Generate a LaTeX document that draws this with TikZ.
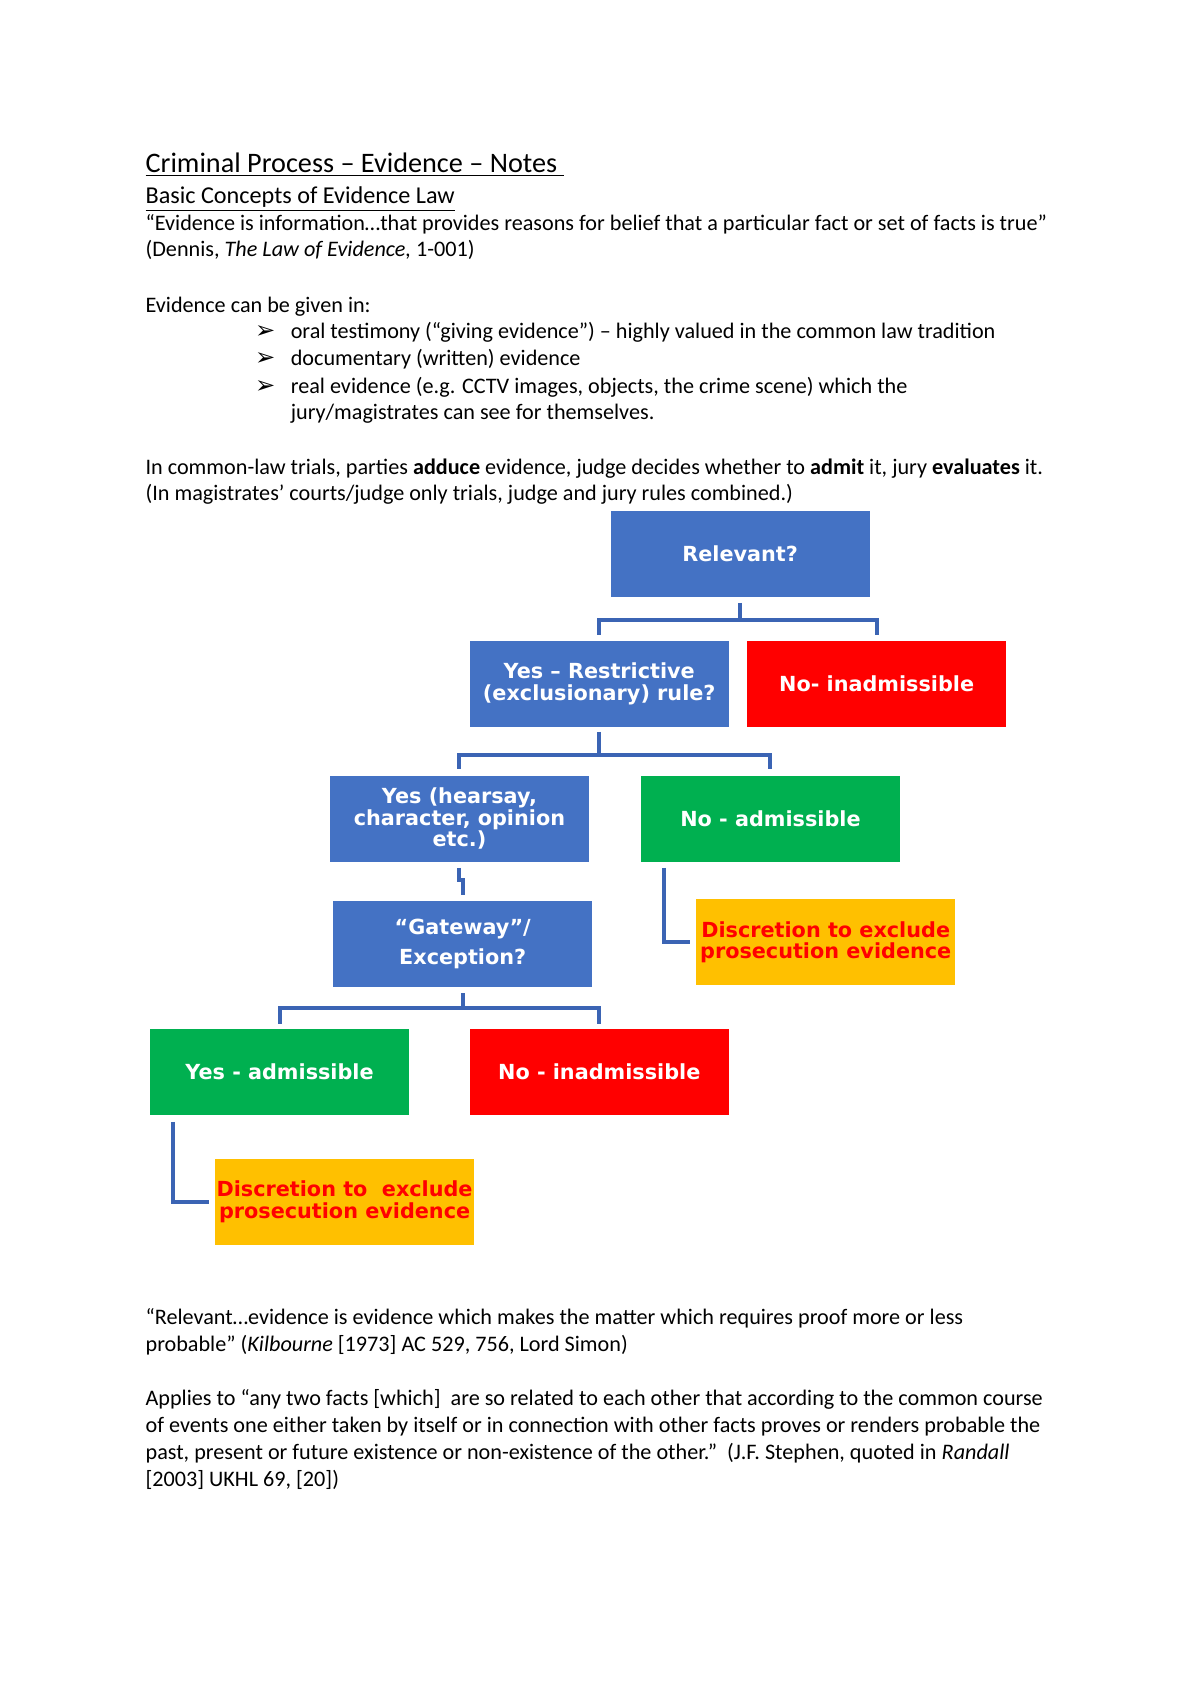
\documentclass[tikz,border=0pt]{standalone}
\usepackage{fontspec}
\setmainfont{Carlito}
\newfontfamily\boxfont{DejaVu Sans}
\newfontfamily\bulletfont{DejaVu Sans}
\usetikzlibrary{calc}
\definecolor{boxblue}{HTML}{4472C4}
\definecolor{boxred}{HTML}{FF0000}
\definecolor{boxgreen}{HTML}{00B050}
\definecolor{boxorange}{HTML}{FFC000}
\definecolor{linkblue}{HTML}{3B64B4}
\tikzset{
	textline/.style = {
		anchor=base west,
		inner sep=0pt,
		font=\fontsize{11}{13.4}\selectfont
	},
	bulletmark/.style = {
		textline,
		font=\bulletfont\fontsize{12}{14}\selectfont
	},
	flowbox/.style = {
		rectangle,
		align=center,
		inner sep=0pt,
		minimum width=129pt,
		minimum height=43pt,
		draw=white,
		line width=0.4pt,
		text=white,
		font=\boxfont\bfseries\fontsize{10.3}{10.8}\selectfont
	},
	box_blue/.style = {
		flowbox,
		fill=boxblue
	},
	box_red/.style = {
		flowbox,
		fill=boxred
	},
	box_green/.style = {
		flowbox,
		fill=boxgreen
	},
	box_orange/.style = {
		flowbox,
		fill=boxorange,
		text=boxred
	},
	link/.style = {
		draw=linkblue,
		line width=2pt
	},
}

\begin{document}
\begin{tikzpicture}[x=0.5374pt, y=-0.5374pt]
\useasboundingbox [fill=white] (0,0) rectangle (1108,1567);

% heading and opening notes
\node [textline, font=\fontsize{14}{17}\selectfont] (title) at (134,159) {\underline{Criminal Process – Evidence – Notes\ }};
\node [textline, font=\fontsize{12}{14.6}\selectfont] (subtitle) at (134,188) {\underline{Basic Concepts of Evidence Law}};
\node [textline] (def1) at (134,213) {“Evidence is information…that provides reasons for belief that a particular fact or set of facts is true”};
\node [textline] (def2) at (134,237) {(Dennis, \textit{The Law of Evidence,} 1-001)};

\node [textline] (given) at (134,288) {Evidence can be given in:};
\node [bulletmark] (b1) at (235,312) {➢};
\node [textline] (oral) at (268,312) {oral testimony (“giving evidence”) – highly valued in the common law tradition};
\node [bulletmark] (b2) at (235,337) {➢};
\node [textline] (docs) at (268,337) {documentary (written) evidence};
\node [bulletmark] (b3) at (235,363) {➢};
\node [textline] (real1) at (268,363) {real evidence (e.g. CCTV images, objects, the crime scene) which the};
\node [textline] (real2) at (268,387) {jury/magistrates can see for themselves.};

\node [textline] (trial1) at (134,438) {In common-law trials, parties \textbf{adduce} evidence, judge decides whether to \textbf{admit} it, jury \textbf{evaluates} it.};
\node [textline] (trial2) at (134,462) {(In magistrates’ courts/judge only trials, judge and jury rules combined.)};

% flow of admissibility
\node [box_blue] (rel) at (683,511) {Relevant?};
\node [box_blue] (restr) at (553,631) {Yes – Restrictive\\(exclusionary) rule?};
\node [box_red] (noin) at (809,631) {No- inadmissible};
\node [box_blue] (hear) at (424,755.5) {Yes (hearsay,\\character, opinion\\etc.)};
\node [box_green] (adm) at (711,755.5) {No - admissible};
\node [box_blue] (gate) at (427,871) {“Gateway”/\\[4pt]Exception?};
\node [box_orange] (disc1) at (762,869.5) {Discretion to exclude\\prosecution evidence};
\node [box_green] (yesad) at (258,989) {Yes - admissible};
\node [box_red] (noin2) at (553,989) {No - inadmissible};
\node [box_orange] (disc2) at (318,1109) {Discretion to\ \ exclude\\prosecution evidence};

\draw [link] ($(rel.south)+(0,5)$) -- ($(rel.south)+(0,21)$) -| ($(restr.north)+(0,-5)$);
\draw [link] ($(rel.south)+(0,21)$) -| ($(noin.north)+(0,-5)$);
\draw [link] ($(restr.south)+(0,4)$) -- ($(restr.south)+(0,25)$) -| ($(hear.north)+(0,-5)$);
\draw [link] ($(restr.south)+(0,25)$) -| ($(adm.north)+(0,-5)$);
\draw [link] ($(hear.south)+(0,5)$) -- ($(hear.south)+(0,16)$) -| ($(gate.north)+(0,-5)$);
\draw [link] ($(gate.south)+(0,5)$) -- ($(gate.south)+(0,19)$) -| ($(yesad.north)+(0,-4)$);
\draw [link] ($(gate.south)+(0,19)$) -| ($(noin2.north)+(0,-4)$);
\draw [link] ($(adm.south west)+(22,5)$) |- ($(disc1.west)+(-5,0)$);
\draw [link] ($(yesad.south west)+(22,6)$) |- ($(disc2.west)+(-5,0)$);

% closing notes
\node [textline] (relq1) at (134,1222) {“Relevant…evidence is evidence which makes the matter which requires proof more or less};
\node [textline] (relq2) at (134,1247) {probable” (\textit{Kilbourne} [1973] AC 529, 756, Lord Simon)};
\node [textline] (app1) at (134,1297) {Applies to “any two facts [which]\ \ are so related to each other that according to the common course};
\node [textline] (app2) at (134,1322) {of events one either taken by itself or in connection with other facts proves or renders probable the};
\node [textline] (app3) at (134,1347) {past, present or future existence or non-existence of the other.”\ \ (J.F. Stephen, quoted in \textit{Randall}};
\node [textline] (app4) at (134,1372) {[2003] UKHL 69, [20])};
\end{tikzpicture}
\end{document}
